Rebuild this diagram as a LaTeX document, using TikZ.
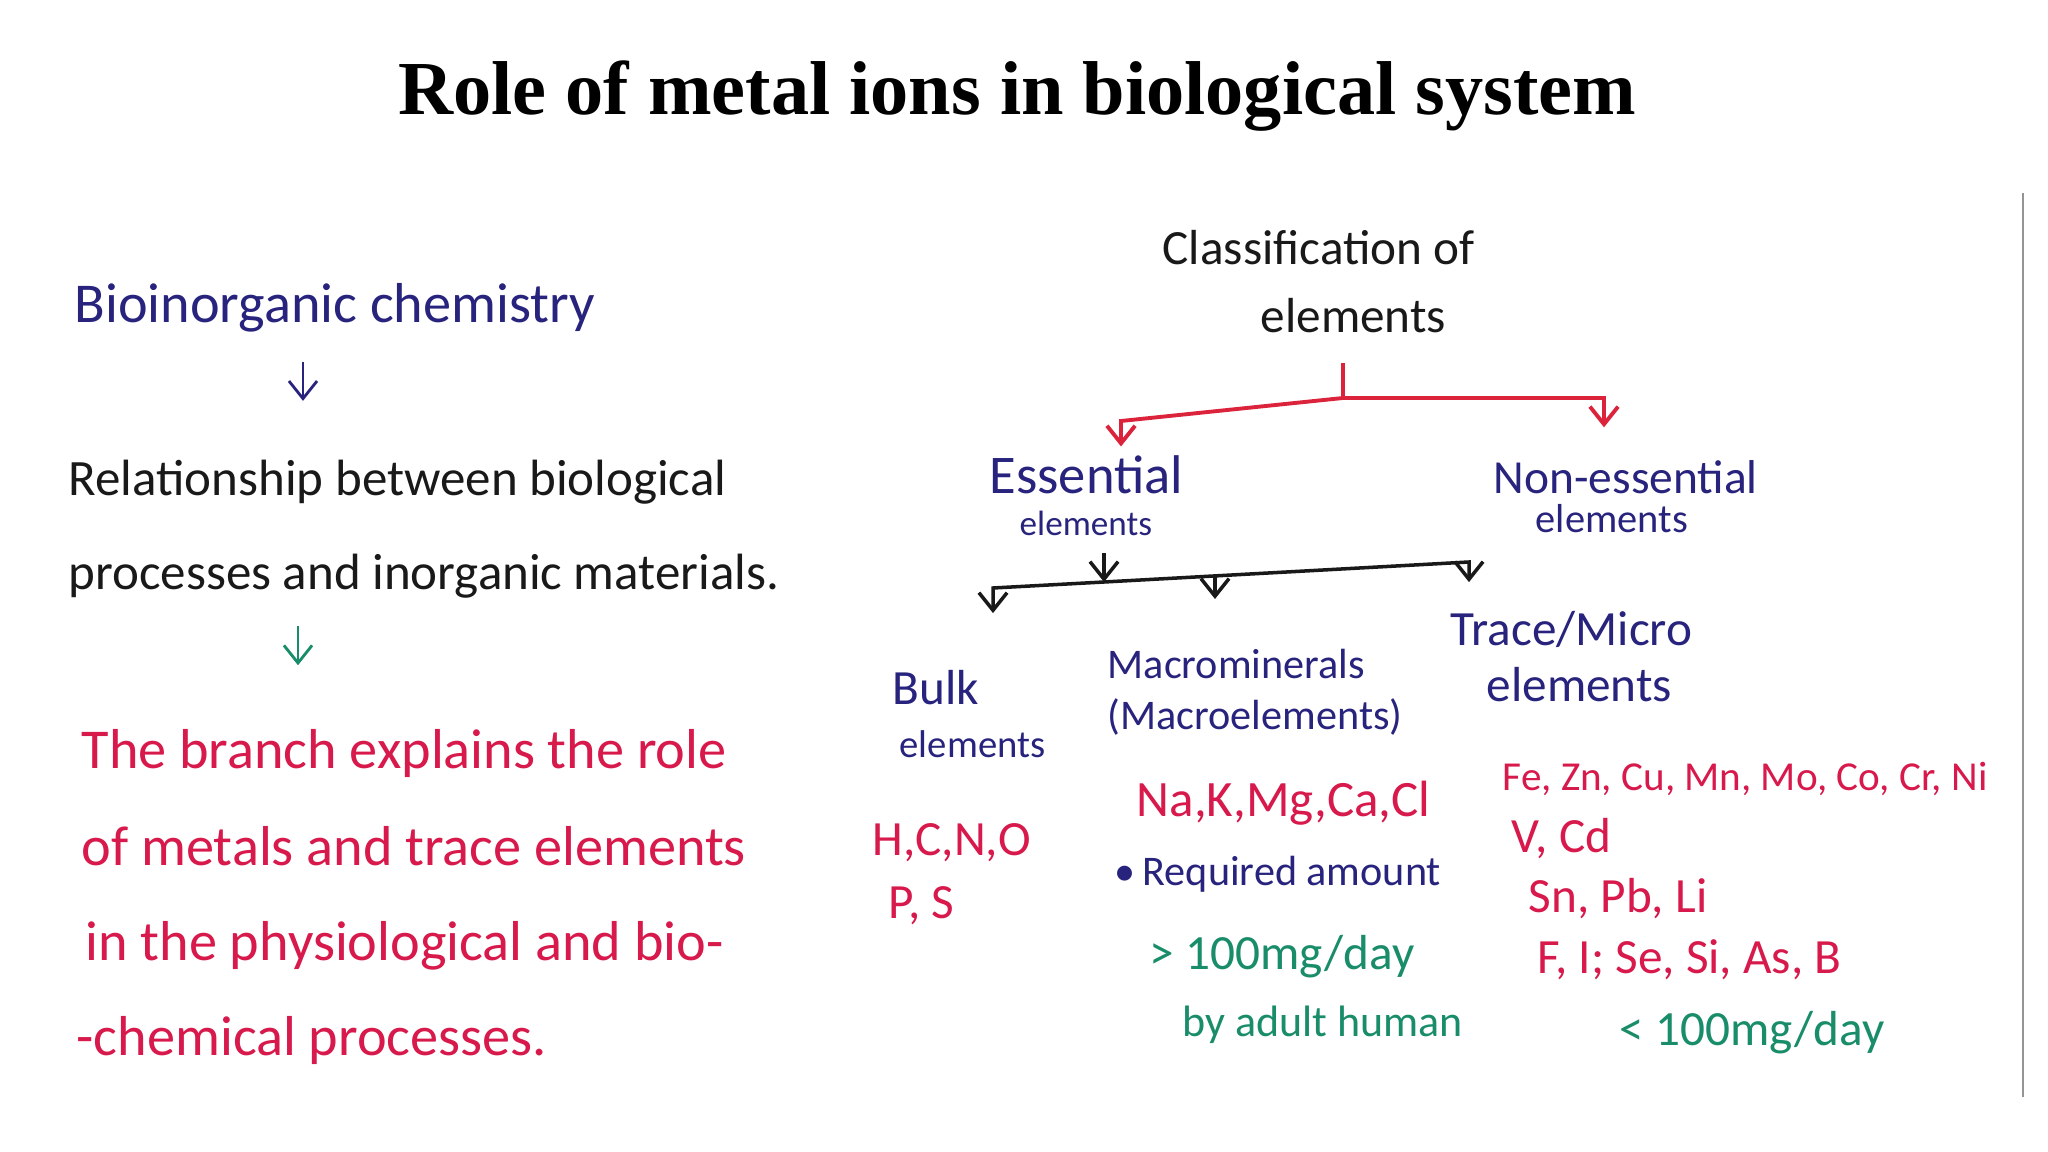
\documentclass[tikz,border=0pt]{standalone}
\usepackage{fontspec}
\setmainfont{Carlito}
\newfontfamily\titlefont{Liberation Serif}
\usepackage{tikz}
\usetikzlibrary{arrows.meta, calc}
\definecolor{inkNAVY}{RGB}{40, 35, 125}
\definecolor{inkBLACK}{RGB}{25, 25, 25}
\definecolor{inkRED}{RGB}{215, 25, 75}
\definecolor{inkGREEN}{RGB}{25, 140, 105}
\definecolor{penRED}{RGB}{220, 35, 60}
\newcommand\handsz[1]{\fontsize{#1}{#1}\selectfont}

\begin{document}
\begin{tikzpicture}[
  x=0.01cm, y=-0.01cm,
  titleTXT/.style = {inner sep=0pt, anchor=base,
                     font=\titlefont\bfseries\fontsize{21.7}{26}\selectfont},
  ink/.style      = {inner sep=0pt, anchor=base west, text=#1},
  arrNAVY/.style  = {-{Straight Barb[length=5pt, width=8pt]}, line width=0.8pt, color=inkNAVY},
  arrGREEN/.style = {-{Straight Barb[length=5pt, width=8pt]}, line width=0.8pt, color=inkGREEN},
  arrRED/.style   = {-{Straight Barb[length=5pt, width=8pt]}, line width=1.1pt, color=penRED},
  arrINK/.style   = {-{Straight Barb[length=5pt, width=8pt]}, line width=1pt, color=inkBLACK},
]
\path[fill=white, use as bounding box] (0,0) rectangle (2048,1152);

\node[titleTXT] (title) at (1017,115) {Role of metal ions in biological system};

%% left column
\node[ink=inkNAVY,  font=\handsz{16}]   (bio)  at (74,323)  {Bioinorganic chemistry};
\node[ink=inkBLACK, font=\handsz{14.5}] (rel1) at (68,496)  {Relationship between biological};
\node[ink=inkBLACK, font=\handsz{14.5}] (rel2) at (68,590)  {processes and inorganic materials.};
\node[ink=inkRED,   font=\handsz{16}]   (brA)  at (81,768)  {The branch explains the role};
\node[ink=inkRED,   font=\handsz{16}]   (brB)  at (81,865)  {of metals and trace elements};
\node[ink=inkRED,   font=\handsz{16}]   (brC)  at (85,960)  {in the physiological and bio-};
\node[ink=inkRED,   font=\handsz{16}]   (brD)  at (76,1055) {-chemical processes.};

\coordinate (aBlue)  at (303,0);
\coordinate (aGreen) at (298,0);
\draw[arrNAVY, shorten <=0.29cm, shorten >=0.59cm] (bio.south -| aBlue) -- (rel1.north -| aBlue);
\draw[arrGREEN, shorten <=0.27cm, shorten >=0.63cm] (rel2.south -| aGreen) -- (brA.north -| aGreen);

%% classification tree
\node[ink=inkBLACK, font=\handsz{14}]   (clsA) at (1162,265) {Classification of};
\node[ink=inkBLACK, font=\handsz{14}]   (clsB) at (1260,333) {elements};
\node[ink=inkNAVY,  font=\handsz{15.5}] (essA) at (989,494)  {Essential};
\node[ink=inkNAVY,  font=\handsz{10}]   (essB) at (1019,535) {elements};
\node[ink=inkNAVY,  font=\handsz{13.5}] (nonA) at (1493,494) {Non-essential};
\node[ink=inkNAVY,  font=\handsz{11.5}] (nonB) at (1535,533) {elements};

\coordinate (jR) at (1343,398);
\coordinate (lR) at (1121,421);
\coordinate (rR) at (1604,398);
\draw[arrRED, shorten <=0.29cm, shorten >=0.09cm] (clsB.south -| jR) -- (jR) -- (lR) -- (essA.north -| lR);
\draw[arrRED, shorten >=0.33cm] (jR) -- (rR) -- (nonA.north -| rR);

%% essential elements
\node[ink=inkNAVY, font=\handsz{14}] (bulkA) at (892,705)  {Bulk};
\node[ink=inkNAVY, font=\handsz{11}] (bulkB) at (899,757)  {elements};
\node[ink=inkNAVY, font=\handsz{12}] (macA)  at (1107,679) {Macrominerals};
\node[ink=inkNAVY, font=\handsz{12}] (macB)  at (1107,729) {(Macroelements)};
\node[ink=inkNAVY, font=\handsz{14}] (trA)   at (1450,646) {Trace/Micro};
\node[ink=inkNAVY, font=\handsz{14}] (trB)   at (1486,701) {elements};

\coordinate (jB) at (1104,582);
\coordinate (lB) at (993,588);
\coordinate (mB) at (1215,576);
\coordinate (rB) at (1469,562);
\draw[arrINK, shorten <=0.17cm] (essB.south -| jB) -- (jB);
\draw[arrINK, shorten >=0.57cm] (jB) -- (lB) -- (bulkA.north -| lB);
\draw[arrINK, shorten >=0.29cm] (jB) -- (rB) -- (trA.north -| rB);
\draw[arrINK, shorten >=0.50cm] (mB) -- (macA.north -| mB);

%% members
\node[ink=inkRED,   font=\handsz{14}]   (bulkE1) at (872,855)  {H,C,N,O};
\node[ink=inkRED,   font=\handsz{14}]   (bulkE2) at (888,918)  {P, S};
\node[ink=inkRED,   font=\handsz{14.5}] (macE)   at (1136,816) {Na,K,Mg,Ca,Cl};
\node[ink=inkNAVY,  font=\handsz{12}]   (macReq) at (1114,885) {\textbullet\,Required amount};
\node[ink=inkGREEN, font=\handsz{14}]   (macAmt) at (1149,969) {> 100mg/day};
\node[ink=inkGREEN, font=\handsz{12.5}] (macBy)  at (1182,1036) {by adult human};
\node[ink=inkRED,   font=\handsz{11.7}] (trE1)   at (1502,790) {Fe, Zn, Cu, Mn, Mo, Co, Cr, Ni};
\node[ink=inkRED,   font=\handsz{14}]   (trE2)   at (1511,852) {V, Cd};
\node[ink=inkRED,   font=\handsz{14}]   (trE3)   at (1528,912) {Sn, Pb, Li};
\node[ink=inkRED,   font=\handsz{14}]   (trE4)   at (1537,973) {F, I; Se, Si, As, B};
\node[ink=inkGREEN, font=\handsz{14}]   (trAmt)  at (1619,1045) {< 100mg/day};

%% page edge
\draw[line width=0.6pt, color=black!42] (2023,193) -- (2023,1097);

\end{tikzpicture}
\end{document}
